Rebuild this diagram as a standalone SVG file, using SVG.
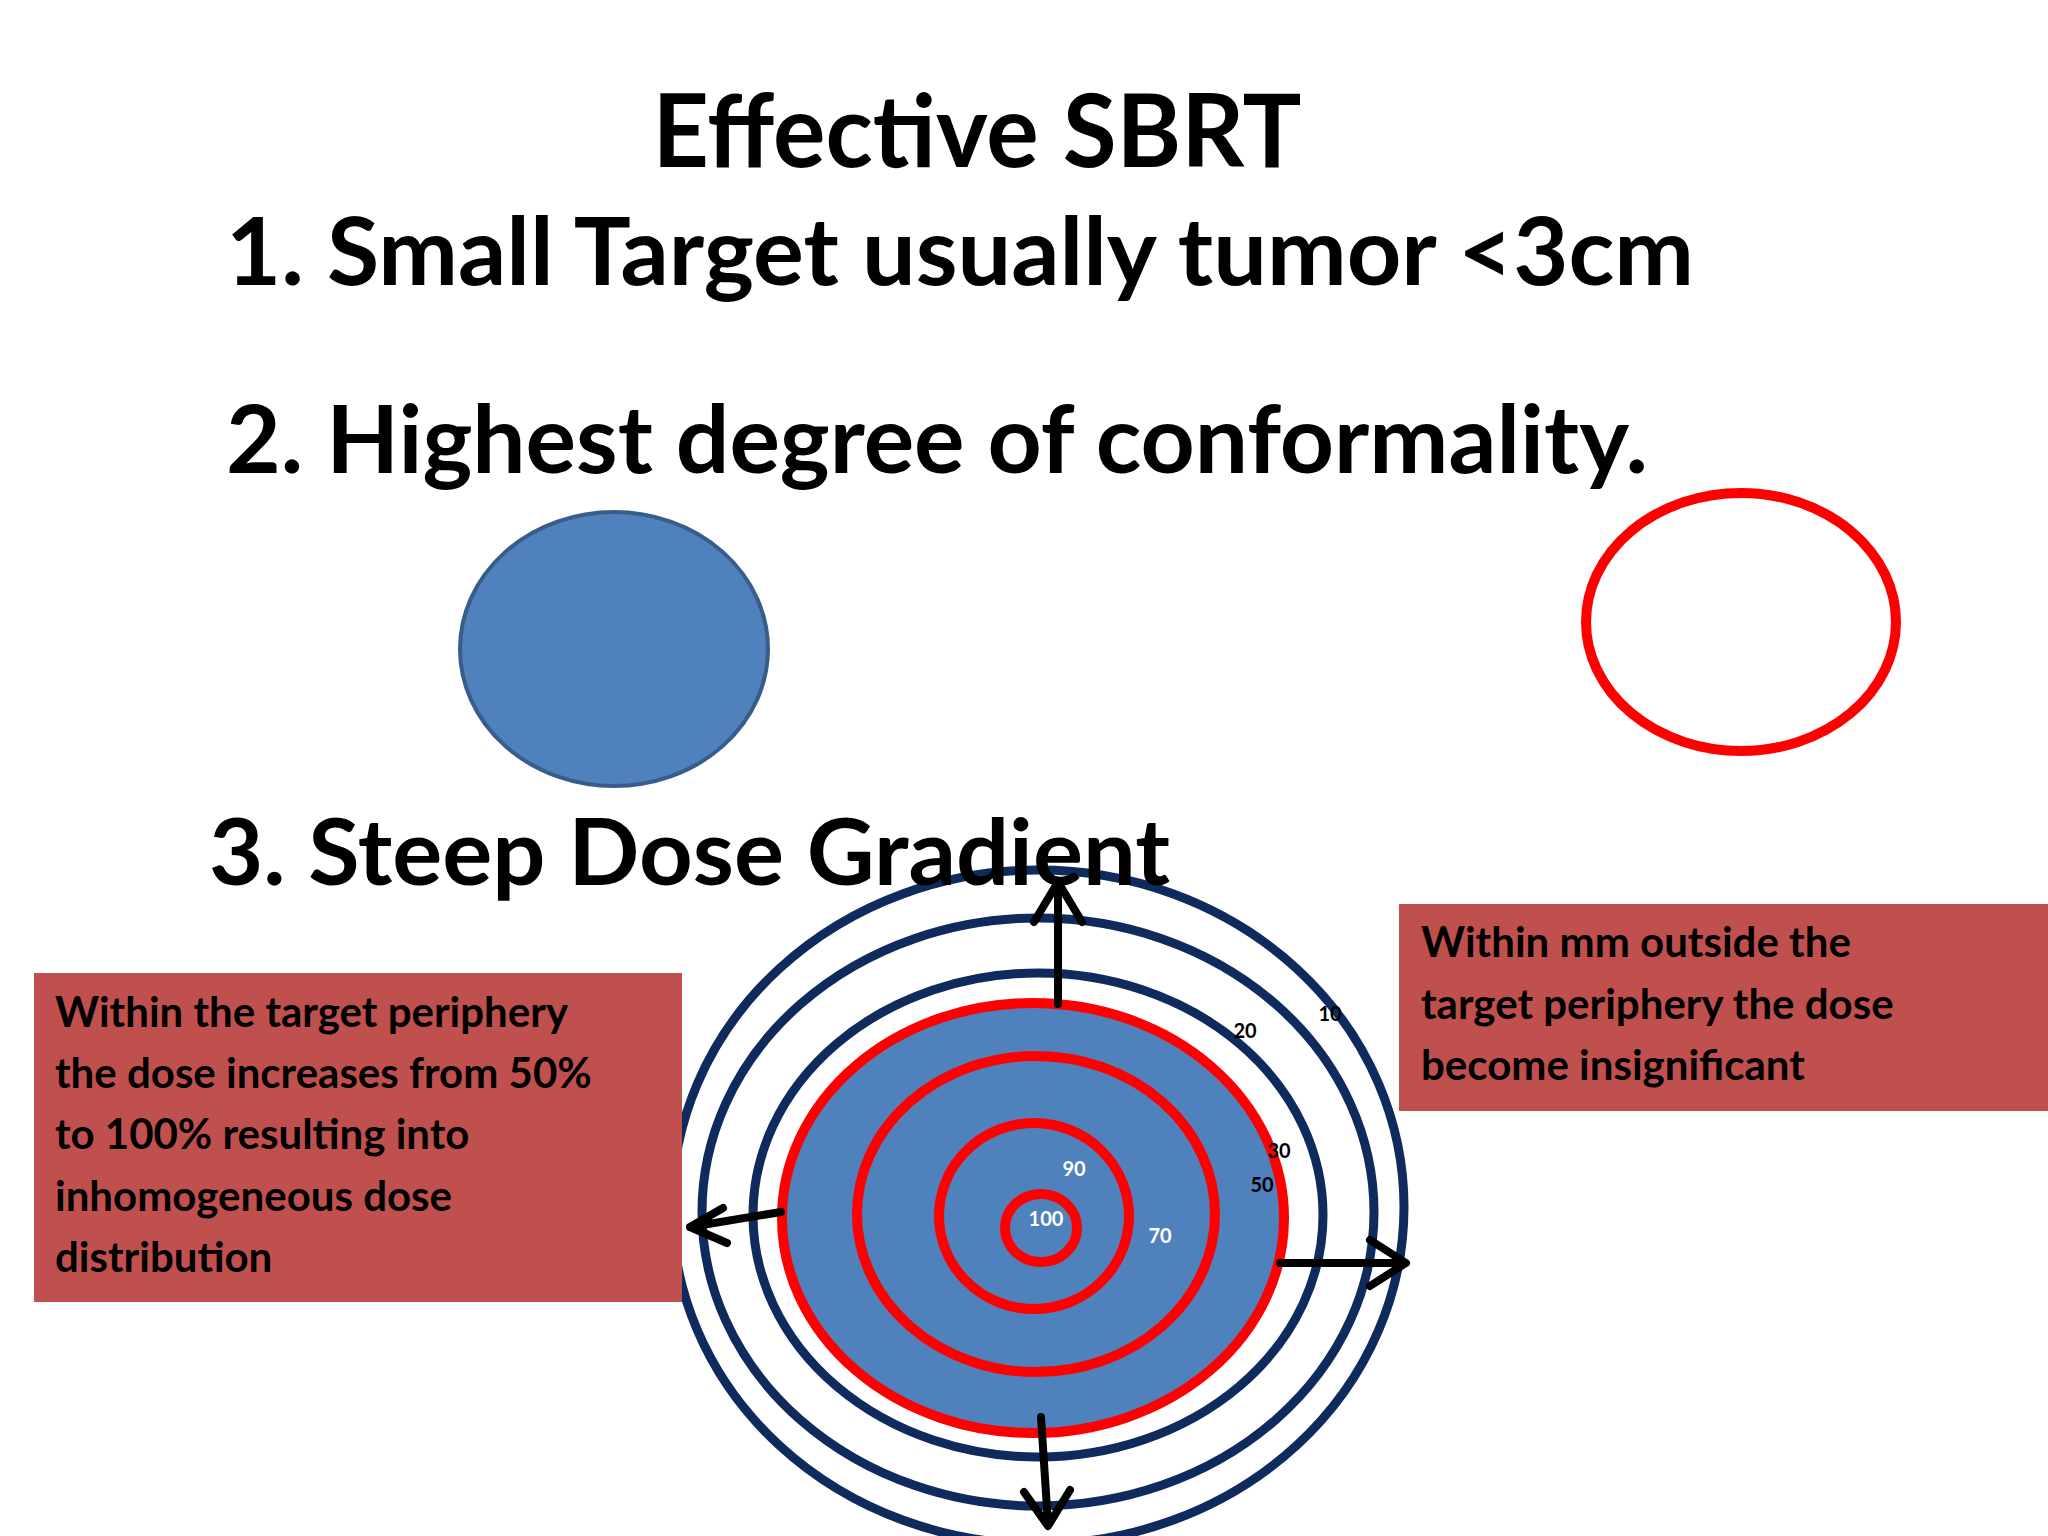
<svg xmlns="http://www.w3.org/2000/svg" width="2048" height="1536" viewBox="0 0 2048 1536">
<style>
.h{font-family:Lato,"Open Sans",sans-serif;font-weight:bold;fill:#000}
.b{font-family:Lato,"Open Sans",sans-serif;font-weight:bold;font-size:42px;fill:#000}
.n{font-family:Lato,"Open Sans",sans-serif;font-weight:bold;font-size:20px}
.nav{fill:none;stroke:#0f2a5c;stroke-width:9}
.red{fill:none;stroke:#f00;stroke-width:10}
.arr{fill:none;stroke:#000;stroke-width:8;stroke-linecap:round;stroke-linejoin:round}
</style>
<rect width="2048" height="1536" fill="#fff"/>
<g id="title">
<text class="h" x="977" y="167" font-size="102" text-anchor="middle" textLength="649" lengthAdjust="spacingAndGlyphs">Effective SBRT</text>
<text class="h" x="226" y="285" font-size="94" textLength="1468" lengthAdjust="spacingAndGlyphs">1. Small Target usually tumor &lt;3cm</text>
<text class="h" x="226" y="473" font-size="94" textLength="1422" lengthAdjust="spacingAndGlyphs">2. Highest degree of conformality.</text>
</g>
<g id="blue-ellipse"><ellipse cx="614" cy="649" rx="154" ry="137" fill="#4f81bd" stroke="#385d8a" stroke-width="4"/></g>
<g id="red-ellipse"><ellipse cx="1741" cy="622" rx="155" ry="129" fill="none" stroke="#f00" stroke-width="10"/></g>
<g id="target">
<ellipse class="nav" cx="1038" cy="1207" rx="366" ry="337"/>
<ellipse class="nav" cx="1038" cy="1212" rx="336" ry="294"/>
<ellipse class="nav" cx="1038" cy="1215" rx="285" ry="242"/>
<ellipse cx="1033" cy="1218" rx="251" ry="215" fill="#4f81bd" stroke="#f00" stroke-width="10"/>
<ellipse class="red" cx="1036" cy="1214" rx="179" ry="158"/>
<ellipse class="red" cx="1034" cy="1216" rx="95" ry="93"/>
<ellipse class="red" cx="1041" cy="1228" rx="36" ry="34"/>
<text class="n" x="1330" y="1021" text-anchor="middle">10</text>
<text class="n" x="1245" y="1038" text-anchor="middle">20</text>
<text class="n" x="1279" y="1158" text-anchor="middle">30</text>
<text class="n" x="1262" y="1192" text-anchor="middle">50</text>
<text class="n" x="1074" y="1176" text-anchor="middle" fill="#fff">90</text>
<text class="n" x="1046" y="1226" text-anchor="middle" fill="#fff">100</text>
<text class="n" x="1160" y="1243" text-anchor="middle" fill="#fff">70</text>
</g>
<g id="heading3"><text class="h" x="209" y="885" font-size="92" textLength="961" lengthAdjust="spacingAndGlyphs">3. Steep Dose Gradient</text></g>
<g id="connectors">
<path class="arr" d="M1058 1004 V882 M1034 922 L1058 882 L1082 922"/>
<path class="arr" d="M781 1212 L690 1227 M723 1208 L690 1227 L727 1243"/>
<path class="arr" d="M1280 1263 H1404 M1370 1240 L1406 1263 L1370 1286"/>
<path class="arr" d="M1041 1417 L1048 1524 M1024 1492 L1048 1526 L1070 1490"/>
</g>
<g id="left-box">
<rect x="34" y="973" width="648" height="329" fill="#c0504d"/>
<text class="b" x="55" y="1027">Within the target periphery</text>
<text class="b" x="55" y="1088">the dose increases from 50%</text>
<text class="b" x="55" y="1149">to 100% resulting into</text>
<text class="b" x="55" y="1211">inhomogeneous dose</text>
<text class="b" x="55" y="1272">distribution</text>
</g>
<g id="right-box">
<rect x="1399" y="904" width="649" height="207" fill="#c0504d"/>
<text class="b" x="1421" y="957">Within mm outside the</text>
<text class="b" x="1421" y="1019">target periphery the dose</text>
<text class="b" x="1421" y="1080">become insignificant</text>
</g>
</svg>
